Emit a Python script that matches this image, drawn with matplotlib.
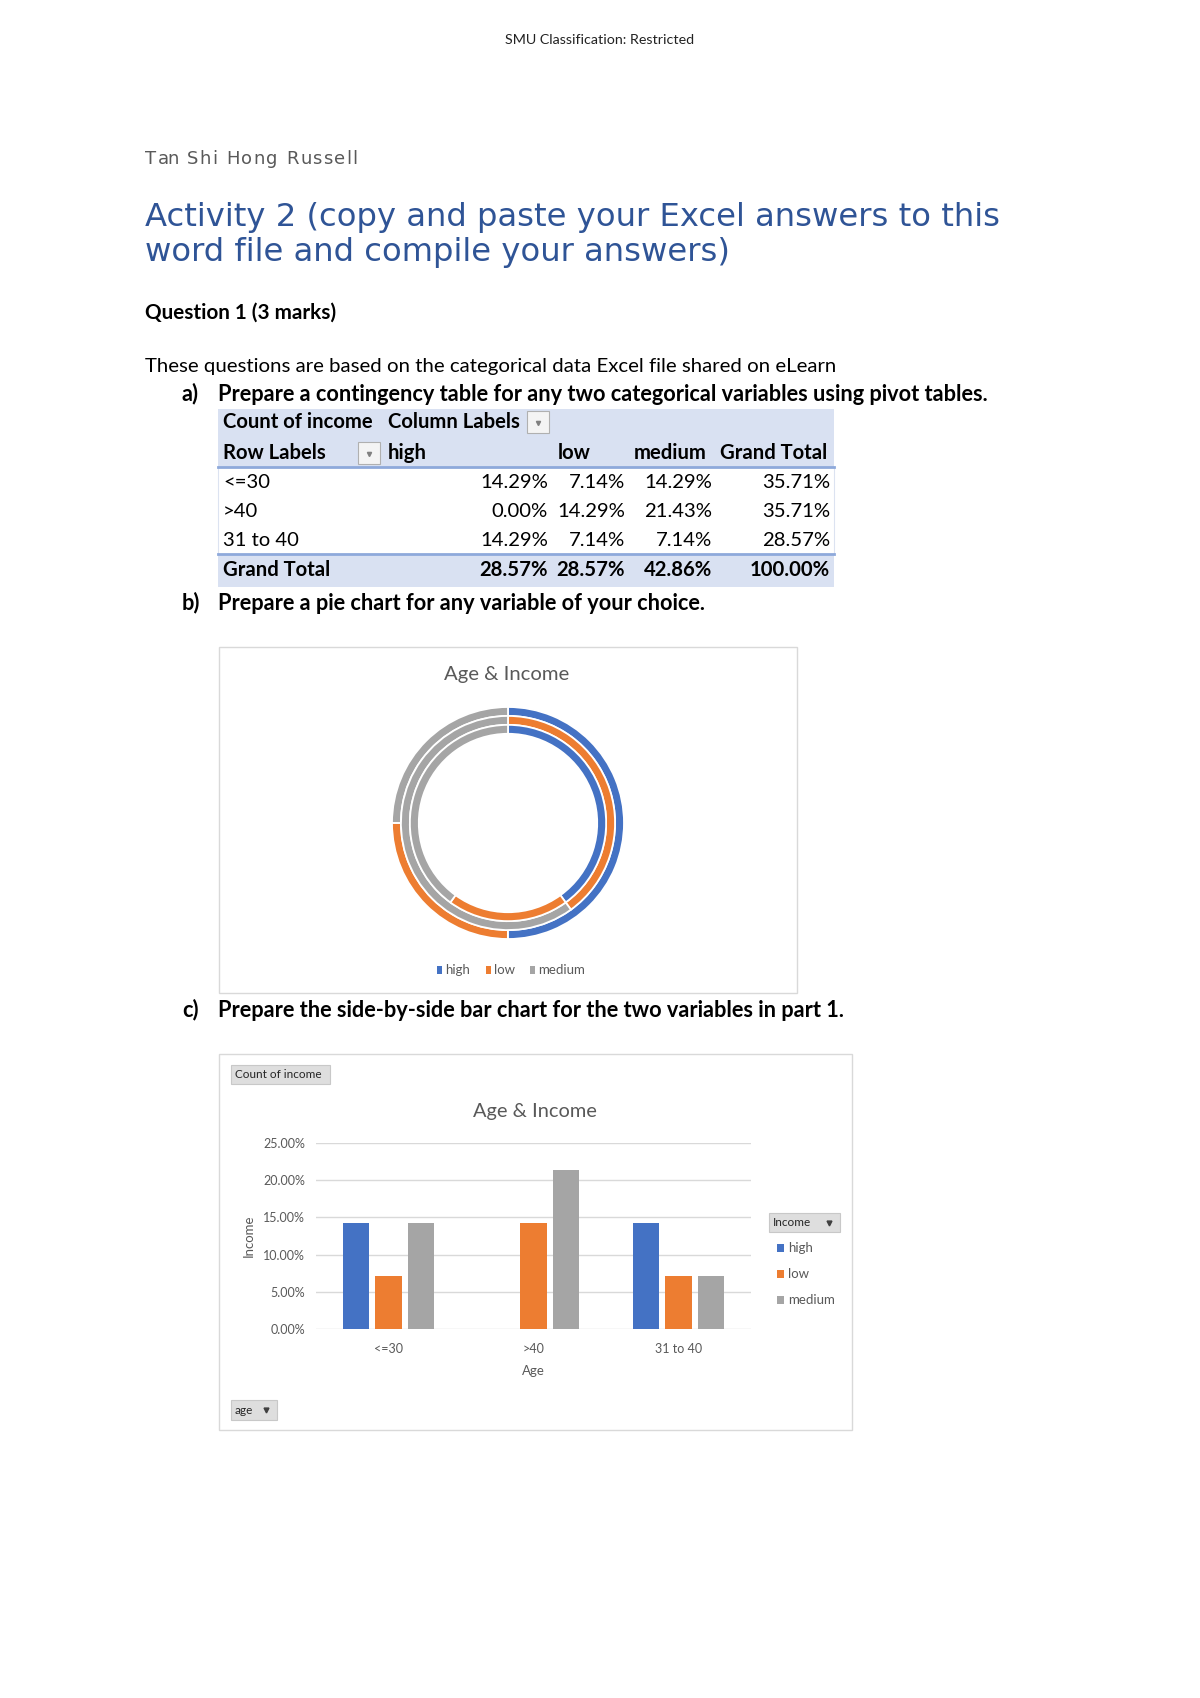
import numpy as np
import matplotlib
matplotlib.use("Agg")
import matplotlib.pyplot as plt
from matplotlib.patches import Rectangle
from matplotlib.ticker import FuncFormatter
from matplotlib.font_manager import FontProperties

# data from the pivot table
age_groups = ['<=30', '>40', '31 to 40']
income_levels = ['high', 'low', 'medium']
high = [14.29, 0.00, 14.29]
low = [7.14, 14.29, 7.14]
medium = [14.29, 21.43, 7.14]
row_totals = [35.71, 35.71, 28.57]
col_totals = [28.57, 28.57, 42.86]
grand_total = 100.00

colors = ['#4472C4', '#ED7D31', '#A5A5A5']
W, H = 1200, 1698
BODY = 'Lato'

fig = plt.figure(figsize=(W / 100, H / 100), dpi=100)
page = fig.add_axes([0, 0, 1, 1])
page.set_xlim(0, W)
page.set_ylim(H, 0)
page.axis('off')


def px_axes(x0, y0, x1, y1):
    return fig.add_axes([x0 / W, 1 - y1 / H, (x1 - x0) / W, (y1 - y0) / H])


def txt(x, y, s, size, **kw):
    kw.setdefault('va', 'center')
    kw.setdefault('family', BODY)
    page.text(x, y, s, fontsize=size, **kw)


def spaced(x, y, s, size, gap, family, color):
    # draw text with a little letter spacing, like the Word style
    rend = fig.canvas.get_renderer()
    prop = FontProperties(family=family, size=size)
    for i, ch in enumerate(s):
        if ch == ' ':
            continue
        w = rend.get_text_width_height_descent(s[:i], prop, ismath=False)[0] if i else 0
        page.text(x + w + i * gap, y, ch, fontproperties=prop, color=color, va='center')


def button(x0, y0, x1, y1, label=None, arrow=True, size=8):
    page.add_patch(Rectangle((x0, y0), x1 - x0, y1 - y0, fc='#DEDEDE', ec='#C8C8C8', lw=0.8))
    if label:
        txt(x0 + 4, (y0 + y1) / 2, label, size, color='#262626')
    if arrow:
        page.plot([x1 - 11], [(y0 + y1) / 2], marker='v', ms=3.5, color='#404040')


# header and text
txt(600, 40, 'SMU Classification: Restricted', 10.3, ha='center', color='#222222')
spaced(145, 159, 'Tan Shi Hong Russell', 13, 1.4, 'DejaVu Sans', '#595959')
txt(145, 217, 'Activity 2 (copy and paste your Excel answers to this', 23.2, color='#2F5496', family='DejaVu Sans')
txt(145, 252, 'word file and compile your answers)', 23.2, color='#2F5496', family='DejaVu Sans')
txt(145, 313, 'Question 1 (3 marks)', 14.9, weight='bold', color='black')
txt(145, 366, 'These questions are based on the categorical data Excel file shared on eLearn', 14.7, color='black')
bs = 15.7
txt(182, 394, 'a)', bs, weight='bold')
txt(218, 394, 'Prepare a contingency table for any two categorical variables using pivot tables.', bs, weight='bold')
txt(182, 603, 'b)', bs, weight='bold')
txt(218, 603, 'Prepare a pie chart for any variable of your choice.', bs, weight='bold')
txt(182, 1010, 'c)', bs, weight='bold')
txt(218, 1010, 'Prepare the side-by-side bar chart for the two variables in part 1.', bs, weight='bold')

# pivot table
tx0, tx1 = 218, 834
band = '#D9E1F2'
line = '#8EA9DB'
page.add_patch(Rectangle((tx0, 409), tx1 - tx0, 58, fc=band, ec='none'))
page.add_patch(Rectangle((tx0, 554), tx1 - tx0, 33, fc=band, ec='none'))
page.add_patch(Rectangle((tx0, 467), tx1 - tx0, 87, fc='white', ec='#DCE3F1', lw=0.8))
page.plot([tx0, tx1], [467, 467], color=line, lw=2)
page.plot([tx0, tx1], [554, 554], color=line, lw=2)

ts = 14.6
txt(223, 422, 'Count of income', ts, weight='bold')
txt(388, 422, 'Column Labels', ts, weight='bold')
txt(223, 453, 'Row Labels', ts, weight='bold')
for bx in (527, 358):
    by = 422 if bx == 527 else 453
    page.add_patch(Rectangle((bx, by - 11), 22, 22, fc='#F4F4F4', ec='#B0B0B0', lw=0.8))
    page.plot([bx + 11], [by + 1], marker='v', ms=3, color='#808080')
txt(388, 453, 'high', ts, weight='bold')
txt(558, 453, 'low', ts, weight='bold')
txt(634, 453, 'medium', ts, weight='bold')
txt(720, 453, 'Grand Total', ts, weight='bold')

col_right = [548, 625, 712, 830]
row_y = [482, 511, 540]
for i, g in enumerate(age_groups):
    txt(223, row_y[i], g, ts)
    vals = [high[i], low[i], medium[i], row_totals[i]]
    for v, xr in zip(vals, col_right):
        txt(xr, row_y[i], f'{v:.2f}%', ts, ha='right')
txt(223, 570, 'Grand Total', ts, weight='bold')
for v, xr in zip(col_totals + [grand_total], col_right):
    txt(xr, 570, f'{v:.2f}%', ts, ha='right', weight='bold')

# doughnut chart
page.add_patch(Rectangle((219, 647), 578, 346, fc='white', ec='#D9D9D9', lw=1))
txt(507, 674, 'Age & Income', 14.6, ha='center', color='#595959')
cx, cy, R = 508, 823, 116
dax = px_axes(cx - R, cy - R, cx + R, cy + R)
dax.set_xlim(-1, 1)
dax.set_ylim(-1, 1)
dax.axis('off')
ring_w = 0.077
for k, i in enumerate([2, 1, 0]):  # outer ring is the last series
    vals = [high[i], low[i], medium[i]]
    dax.pie(vals, radius=1 - k * ring_w, colors=colors, startangle=90, counterclock=False,
            wedgeprops=dict(width=ring_w, edgecolor='white', linewidth=1.3))
dax.set_xlim(-1, 1)
dax.set_ylim(-1, 1)
leg_x = [437, 486, 530]
for lx, name, c in zip(leg_x, income_levels, colors):
    page.add_patch(Rectangle((lx, 966), 5, 8, fc=c, ec='none'))
    txt(lx + 8, 970, name, 9.5, color='#595959')

# clustered bar chart
page.add_patch(Rectangle((219, 1054), 633, 376, fc='white', ec='#D9D9D9', lw=1))
button(231, 1065, 330, 1084, 'Count of income', arrow=False, size=8.5)
button(231, 1400, 277, 1420, 'age', size=8.5)
txt(535, 1111, 'Age & Income', 14.4, ha='center', color='#595959')

bax = px_axes(316, 1143, 751, 1329)
x = np.arange(len(age_groups))
bw = 0.18
for j, (series, c) in enumerate(zip([high, low, medium], colors)):
    bax.bar(x + (j - 1) * 0.225, np.array(series) / 100, width=bw, color=c, zorder=3)
bax.set_xlim(-0.5, 2.5)
bax.set_ylim(0, 0.25)
bax.set_yticks(np.arange(0, 0.2501, 0.05))
bax.yaxis.set_major_formatter(FuncFormatter(lambda v, p: f'{v * 100:.2f}%'))
bax.grid(axis='y', color='#D9D9D9', lw=1, zorder=0)
for s in bax.spines.values():
    s.set_visible(False)
bax.tick_params(length=0, labelsize=9, labelcolor='#595959', pad=8)
bax.set_xticks(x)
bax.set_xticklabels(age_groups, family=BODY)
for lab in bax.get_yticklabels():
    lab.set_family(BODY)
bax.tick_params(axis='x', pad=10)
bax.set_facecolor('none')
txt(249, 1236, 'Income', 9.5, rotation=90, ha='center', color='#595959')
txt(533, 1371, 'Age', 9.5, ha='center', color='#595959')

button(769, 1213, 840, 1232, 'Income', size=8.5)
for ly, name, c in zip([1248, 1274, 1300], income_levels, colors):
    page.add_patch(Rectangle((777, ly - 4), 7, 8, fc=c, ec='none'))
    txt(788, ly, name, 9.5, color='#595959')

fig.savefig('out.png', dpi=100)
